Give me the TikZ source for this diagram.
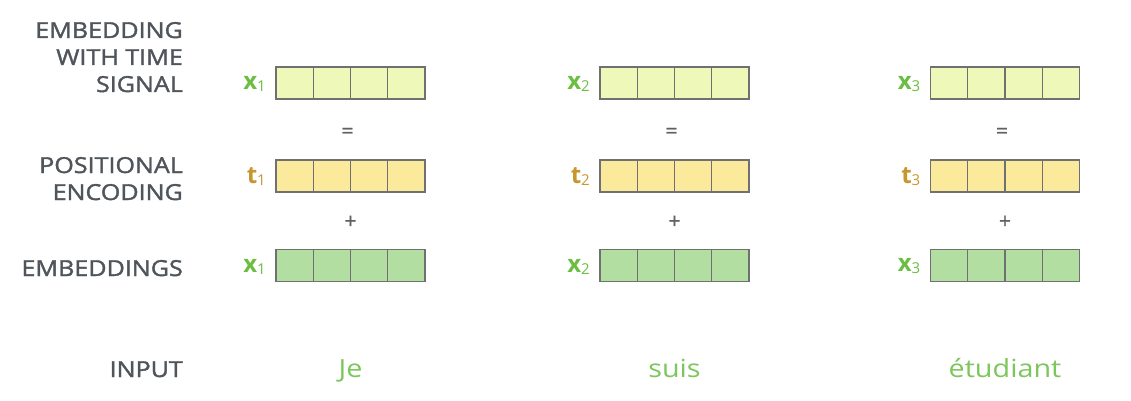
\documentclass[tikz,border=0pt]{standalone}
\usepackage{fontspec}
\setmainfont{Open Sans}
\newfontfamily\labfont[FakeBold=1.6,FakeStretch=1.14]{Open Sans}
\newfontfamily\opfont[FakeBold=1.2]{Open Sans}
\newfontfamily\wordfont[FakeStretch=1.15]{Open Sans}
\usetikzlibrary{calc}
\definecolor{labgray}{HTML}{50555B}
\definecolor{opgray}{HTML}{5E6266}
\definecolor{xgreen}{HTML}{6BBE42}
\definecolor{wgreen}{HTML}{7CC65C}
\definecolor{tgold}{HTML}{C8962E}
\definecolor{topfill}{HTML}{EDF8B9}
\definecolor{midfill}{HTML}{FCEA9C}
\definecolor{botfill}{HTML}{B3DEA1}
\definecolor{cellline}{HTML}{707070}
\tikzset{
  vecbox/.style={draw=cellline, line width=1.4pt, minimum width=149pt, minimum height=32pt, inner sep=0pt, outer sep=0pt},
  rowlab/.style={anchor=base east, inner sep=0pt, text=labgray, font=\labfont\fontsize{22}{26}\selectfont},
  veclab/.style={anchor=east, inner sep=0pt, font=\fontsize{24}{24}\selectfont},
  opnode/.style={inner sep=0pt, text=opgray, font=\opfont\fontsize{21}{21}\selectfont},
  word/.style={anchor=base, inner sep=0pt, text=wgreen, font=\wordfont\fontsize{25}{25}\selectfont}
}
\newcommand{\vlab}[2]{{\bfseries #1}\raisebox{-2pt}{\fontsize{15}{15}\selectfont #2}}
\begin{document}
\begin{tikzpicture}[x=1pt,y=-1pt]
\useasboundingbox (0,0) rectangle (1131,401);
% row labels
\node[rowlab] (l1a) at (183,38) {EMBEDDING};
\node[rowlab] (l1b) at (183,65) {WITH TIME};
\node[rowlab] (l1c) at (183,92) {SIGNAL};
\node[rowlab] (l2a) at (183,173) {POSITIONAL};
\node[rowlab] (l2b) at (183,200) {ENCODING};
\node[rowlab] (l3) at (183,276) {EMBEDDINGS};
\node[rowlab] (l4) at (183,377) {INPUT};
% vectors
\foreach \i/\cx/\w in {1/350.5/Je, 2/674.5/suis, 3/1005/étudiant} {
  \node[vecbox, fill=topfill] (a\i) at (\cx,83) {};
  \node[vecbox, fill=midfill] (b\i) at (\cx,176) {};
  \node[vecbox, fill=botfill] (c\i) at (\cx,265.5) {};
  \foreach \r in {a,b,c} {
    \foreach \k in {1,2,3} {
      \draw[cellline, line width=1.4pt] ($(\r\i.north west)!\k/4!(\r\i.north east)$) -- ($(\r\i.south west)!\k/4!(\r\i.south east)$);
    }
  }
  \node[veclab, text=xgreen] (xa\i) at ($(a\i.west)+(-10,1)$) {\vlab{x}{\i}};
  \node[veclab, text=tgold] (tb\i) at ($(b\i.west)+(-10,1)$) {\vlab{t}{\i}};
  \node[veclab, text=xgreen] (xc\i) at ($(c\i.west)+(-10,1)$) {\vlab{x}{\i}};
  \node[opnode] (eq\i) at ($(a\i.south)+(-3,34)$) {=};
  \node[opnode] (pl\i) at ($(b\i.south)+(0,30)$) {+};
  \node[word] (w\i) at (\cx,377) {\w};
}
\end{tikzpicture}
\end{document}
